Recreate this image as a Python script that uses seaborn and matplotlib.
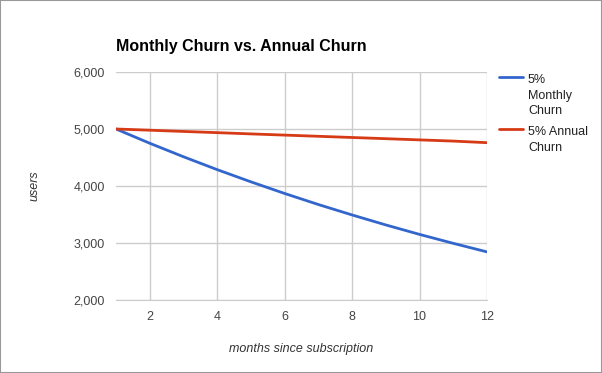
import matplotlib
matplotlib.use("Agg")
import matplotlib.pyplot as plt
import seaborn as sns
import pandas as pd
from matplotlib.patches import Rectangle
from matplotlib.lines import Line2D

months = [1, 2, 3, 4, 5, 6, 7, 8, 9, 10, 11, 12]
monthly_churn = [5000, 4750, 4513, 4287, 4073, 3869, 3675, 3492, 3317, 3151, 2994, 2844]
annual_churn = [5000, 4979, 4957, 4936, 4914, 4893, 4872, 4851, 4830, 4809, 4788, 4760]
series_names = ["5%\nMonthly\nChurn", "5% Annual\nChurn"]
series_colors = ["#3366cc", "#d63a16"]
y_ticks = [2000, 3000, 4000, 5000, 6000]
x_ticks = [2, 4, 6, 8, 10, 12]

df = pd.DataFrame({
    "month": months * 2,
    "users": monthly_churn + annual_churn,
    "series": [series_names[0]] * len(months) + [series_names[1]] * len(months),
})

sns.set_style("white")
plt.rcParams["font.family"] = ["Liberation Sans", "DejaVu Sans"]

fig = plt.figure(figsize=(6.02, 3.73), dpi=100)
ax = fig.add_axes([116 / 602, 1 - 300 / 373, (487 - 116) / 602, (300 - 72) / 373])

sns.lineplot(data=df, x="month", y="users", hue="series",
             palette=series_colors, linewidth=2, ax=ax, legend=False)

ax.set_xlim(1, 12)
ax.set_ylim(2000, 6000)
ax.set_xticks(x_ticks)
ax.set_yticks(y_ticks)
ax.set_yticklabels([f"{v:,}" for v in y_ticks])
ax.grid(True, color="#cccccc", linewidth=1)
for s in ["top", "right", "left"]:
    ax.spines[s].set_visible(False)
ax.spines["bottom"].set_color("#cccccc")
ax.tick_params(axis="both", length=0, labelsize=9, labelcolor="#444444", pad=8)
ax.set_xlabel("months since subscription", style="italic", fontsize=9, color="#333333", labelpad=14)
ax.set_ylabel("users", style="italic", fontsize=9, color="#333333", labelpad=24)

fig.text(116 / 602, 1 - 46 / 373, "Monthly Churn vs. Annual Churn", fontsize=11.5,
         fontweight="bold", color="#000000", va="center", ha="left")

# legend drawn manually so the key line sits beside the first text line
legend_tops = [77, 129]
for name, color, ytop in zip(series_names, series_colors, legend_tops):
    fig.add_artist(Line2D([499 / 602, 523 / 602], [1 - ytop / 373] * 2,
                          color=color, lw=2, transform=fig.transFigure))
    fig.text(528 / 602, 1 - (ytop - 3) / 373, name, fontsize=9, color="#222222",
             ha="left", va="top", linespacing=1.4)

fig.patches.append(Rectangle((0, 0), 1, 1, transform=fig.transFigure, fill=False,
                             edgecolor="#999999", linewidth=1.5))

fig.savefig("out.png", dpi=100)
